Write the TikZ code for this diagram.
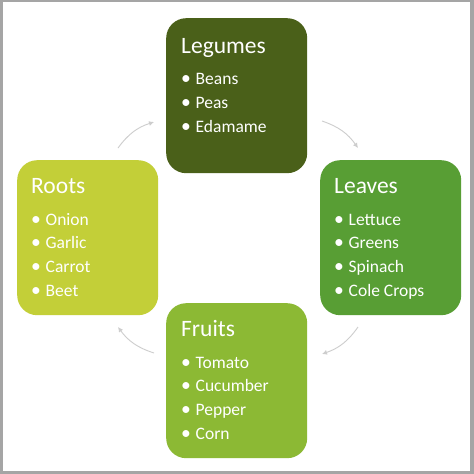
\documentclass[tikz,border=0pt]{standalone}
\usepackage{fontspec}
\setmainfont{Carlito}
\usetikzlibrary{arrows.meta,calc}
\definecolor{cLeg}{RGB}{74,96,25}
\definecolor{cLea}{RGB}{88,158,52}
\definecolor{cFru}{RGB}{140,185,52}
\definecolor{cRoo}{RGB}{195,207,56}
\definecolor{frameGray}{RGB}{165,165,165}
\definecolor{arrGray}{RGB}{205,205,205}
\tikzset{
  box/.style={rounded corners=20pt, minimum width=141pt, minimum height=155pt, anchor=north west, inner sep=0pt, draw=none},
  ttl/.style={anchor=base west, inner sep=0pt, text=white, font=\fontsize{23.5}{28}\selectfont},
  itm/.style={anchor=base west, inner sep=0pt, text=white, font=\fontsize{17.5}{21}\selectfont},
  cyc/.style={draw=arrGray, line width=0.9pt, -{Latex[length=5pt,width=5pt]}, bend left=18}
}
\newcommand{\bul}[1]{\makebox[14.5pt][l]{\raisebox{-0.4pt}{\scalebox{1.12}{•}}}#1}
\begin{document}
\begin{tikzpicture}[x=1pt,y=-1pt]
  \fill[frameGray] (0,0) rectangle (474,474);
  \fill[white] (3,2) rectangle (470,471);
  \useasboundingbox (0,0) rectangle (474,474);

  \node[box, fill=cLeg] (leg) at (166,18) {};
  \node[box, fill=cLea] (lea) at (320,160) {};
  \node[box, fill=cFru] (fru) at (166,303) {};
  \node[box, fill=cRoo] (roo) at (17,160) {};

  % Legumes
  \node[ttl] (legT) at ($(leg.north west)+(15,35)$) {Legumes};
  \node[itm] (leg1) at ($(leg.north west)+(15,66)$) {\bul{Beans}};
  \node[itm] (leg2) at ($(leg.north west)+(15,90)$) {\bul{Peas}};
  \node[itm] (leg3) at ($(leg.north west)+(15,114)$) {\bul{Edamame}};

  % Leaves
  \node[ttl] (leaT) at ($(lea.north west)+(14,33)$) {Leaves};
  \node[itm] (lea1) at ($(lea.north west)+(14,65)$) {\bul{Lettuce}};
  \node[itm] (lea2) at ($(lea.north west)+(14,88)$) {\bul{Greens}};
  \node[itm] (lea3) at ($(lea.north west)+(14,112)$) {\bul{Spinach}};
  \node[itm] (lea4) at ($(lea.north west)+(14,136)$) {\bul{Cole Crops}};

  % Fruits
  \node[ttl] (fruT) at ($(fru.north west)+(15,33)$) {Fruits};
  \node[itm] (fru1) at ($(fru.north west)+(15,65)$) {\bul{Tomato}};
  \node[itm] (fru2) at ($(fru.north west)+(15,88)$) {\bul{Cucumber}};
  \node[itm] (fru3) at ($(fru.north west)+(15,112)$) {\bul{Pepper}};
  \node[itm] (fru4) at ($(fru.north west)+(15,136)$) {\bul{Corn}};

  % Roots
  \node[ttl] (rooT) at ($(roo.north west)+(14,33)$) {Roots};
  \node[itm] (roo1) at ($(roo.north west)+(14,65)$) {\bul{Onion}};
  \node[itm] (roo2) at ($(roo.north west)+(14,88)$) {\bul{Garlic}};
  \node[itm] (roo3) at ($(roo.north west)+(14,112)$) {\bul{Carrot}};
  \node[itm] (roo4) at ($(roo.north west)+(14,136)$) {\bul{Beet}};

  % cycle arrows
  \coordinate (a1s) at (118,148); \coordinate (a1e) at (154,122);
  \coordinate (a2s) at (322,121); \coordinate (a2e) at (358,148);
  \coordinate (a3s) at (358,327); \coordinate (a3e) at (322,354);
  \coordinate (a4s) at (154,353); \coordinate (a4e) at (118,327);
  \draw[cyc] (a1s) to (a1e);
  \draw[cyc] (a2s) to (a2e);
  \draw[cyc] (a3s) to (a3e);
  \draw[cyc] (a4s) to (a4e);
\end{tikzpicture}
\end{document}
